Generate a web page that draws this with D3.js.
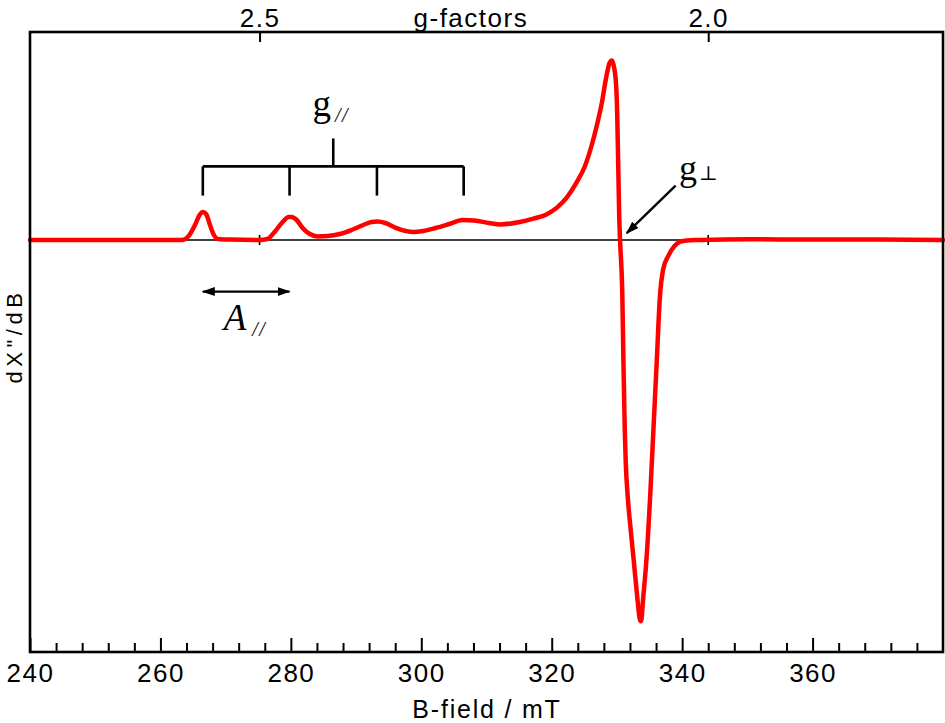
<!DOCTYPE html>
<html><head><meta charset="utf-8">
<script src="https://cdn.jsdelivr.net/npm/d3@7"></script>
<style>body{margin:0;background:#fff}svg{display:block}</style>
</head><body>
<svg id="chart" width="945" height="723"></svg>
<script>
// ---- data ----
const fieldMT = [240.0, 250.7, 263.3, 264.2, 265.3, 266.0, 266.5, 267.0, 267.6, 268.2, 268.8, 270.6, 275.2, 276.4, 277.5, 278.6, 279.7, 280.1, 280.9, 281.8, 282.9, 284.1, 285.6, 287.5, 289.3, 291.1, 292.4, 293.3, 294.5, 296.0, 297.6, 298.8, 300.3, 302.2, 304.3, 306.3, 308.1, 310.4, 312.1, 315.1, 317.2, 319.2, 320.8, 322.3, 323.8, 325.1, 326.1, 326.9, 327.7, 328.3, 328.9, 329.2, 329.45, 329.85, 330.05, 330.2, 330.35, 330.48, 330.83, 331.0, 331.2, 331.35, 331.65, 332.1, 332.6, 333.1, 333.5, 333.7, 334.05, 334.5, 335.1, 335.6, 336.1, 336.6, 337.1, 337.9, 338.9, 339.7, 340.7, 342.6, 350.0, 360.0, 370.0, 380.0];
const signal = [0, 0, 0, 0.0075, 0.0375, 0.0625, 0.07, 0.065, 0.0375, 0.0125, 0.0025, 0.001, 0, 0.0025, 0.02, 0.0425, 0.0575, 0.0575, 0.05, 0.03, 0.015, 0.009, 0.01, 0.015, 0.025, 0.0375, 0.045, 0.046, 0.0425, 0.031, 0.0225, 0.02, 0.0225, 0.03, 0.04, 0.05, 0.049, 0.0425, 0.039, 0.045, 0.0535, 0.064, 0.081, 0.106, 0.1435, 0.185, 0.235, 0.285, 0.344, 0.402, 0.444, 0.449, 0.44, 0.394, 0.31, 0.185, 0.06, 0, -0.14, -0.305, -0.4725, -0.555, -0.64, -0.7225, -0.805, -0.89, -0.9475, -0.953, -0.89, -0.805, -0.64, -0.4725, -0.305, -0.14, -0.0725, -0.039, -0.014, -0.004, -0.001, 0, 0.002, 0.001, 0.001, 0];
const majorTicks = [240, 260, 280, 300, 320, 340, 360];
const minorTicks = [244, 248, 252, 256, 264, 268, 272, 276, 284, 288, 292, 296, 304, 308, 312, 316, 324, 328, 332, 336, 344, 348, 352, 356, 364, 368, 372, 376];
const gTicks = [2.5, 2.0];
const gTickLabels = ["2.5", "2.0"];
const hnuOverMuB = 688;          // mT, field at which g = 1
const gParallelField = [266.5, 279.8, 293.2, 306.5];

// ---- layout ----
const svg = d3.select("#chart");
const pL = 30, pR = 943, pT = 32, pB = 652;
const x = d3.scaleLinear().domain([240, 380]).range([pL, pR]);
const y = d3.scaleLinear().domain([-1.03, 0.52]).range([pB, pT]);
const sans = "'Liberation Sans', Arial, sans-serif";
const serif = "'Liberation Serif', 'Times New Roman', serif";

const defs = svg.append("defs");
defs.append("marker").attr("id", "ah")
  .attr("markerUnits", "userSpaceOnUse")
  .attr("markerWidth", 13).attr("markerHeight", 10)
  .attr("refX", 12).attr("refY", 5)
  .attr("orient", "auto-start-reverse")
  .append("path").attr("d", "M0,0.5 L13,5 L0,9.5 Z").attr("fill", "#000");

// zero line
svg.append("line").attr("x1", pL).attr("x2", pR)
  .attr("y1", y(0)).attr("y2", y(0))
  .attr("stroke", "#000").attr("stroke-width", 1.6);

// small ticks on the zero line at the g positions
svg.selectAll(".zt").data(gTicks).join("line")
  .attr("x1", d => x(hnuOverMuB / d)).attr("x2", d => x(hnuOverMuB / d))
  .attr("y1", y(0) - 5).attr("y2", y(0) + 5)
  .attr("stroke", "#000").attr("stroke-width", 1.6);

// spectrum
const pts = fieldMT.map((b, i) => [b, signal[i]]);
svg.append("path").datum(pts)
  .attr("d", d3.line().x(d => x(d[0])).y(d => y(d[1])).curve(d3.curveMonotoneX))
  .attr("fill", "none").attr("stroke", "#ff0000").attr("stroke-width", 4.5)
  .attr("stroke-linejoin", "round").attr("stroke-linecap", "round");

// bottom axis (ticks inward)
const gMinor = svg.append("g").attr("transform", `translate(0,${pB})`)
  .call(d3.axisBottom(x).tickValues(minorTicks).tickSizeInner(-9).tickSizeOuter(0).tickFormat(""));
const gMajor = svg.append("g").attr("transform", `translate(0,${pB})`)
  .call(d3.axisBottom(x).tickValues(majorTicks).tickSizeInner(-14).tickSizeOuter(0).tickPadding(12).tickFormat(d3.format("d")));
[gMinor, gMajor].forEach(g => {
  g.select(".domain").remove();
  g.selectAll(".tick line").attr("stroke", "#000").attr("stroke-width", 2);
});
gMajor.selectAll(".tick text").attr("font-family", sans).attr("font-size", 26)
  .attr("letter-spacing", "1.5px").attr("fill", "#000");

// top axis: g-factors
const gTop = svg.append("g").attr("transform", `translate(0,${pT})`)
  .call(d3.axisTop(x).tickValues(gTicks.map(g => hnuOverMuB / g))
    .tickSizeInner(-10).tickSizeOuter(0).tickPadding(5)
    .tickFormat((d, i) => gTickLabels[i]));
gTop.select(".domain").remove();
gTop.selectAll(".tick line").attr("stroke", "#000").attr("stroke-width", 2);
gTop.selectAll(".tick text").attr("font-family", sans).attr("font-size", 26)
  .attr("letter-spacing", "1.5px").attr("fill", "#000");

// frame
svg.append("rect").attr("x", pL).attr("y", pT)
  .attr("width", pR - pL).attr("height", pB - pT)
  .attr("fill", "none").attr("stroke", "#000").attr("stroke-width", 2.6);

// axis titles
svg.append("text").attr("x", x(307.6)).attr("y", 27).attr("text-anchor", "middle")
  .attr("font-family", sans).attr("font-size", 26).attr("letter-spacing", "1.5px")
  .text("g-factors");
svg.append("text").attr("x", 487).attr("y", 718).attr("text-anchor", "middle")
  .attr("font-family", sans).attr("font-size", 25).attr("letter-spacing", "1.8px")
  .text("B-field / mT");
svg.append("text").attr("transform", "translate(22,336) rotate(-90)")
  .attr("text-anchor", "middle").attr("font-family", sans).attr("font-size", 22)
  .attr("letter-spacing", "4.5px").text("dX\"/dB");

// g-parallel bracket
const barY = y(0.184), dropY = y(0.111), stemY = y(0.254);
const bx0 = x(gParallelField[0]), bx1 = x(gParallelField[gParallelField.length - 1]);
const br = svg.append("g").attr("stroke", "#000").attr("stroke-width", 2.6).attr("fill", "none");
br.append("line").attr("x1", bx0).attr("x2", bx1).attr("y1", barY).attr("y2", barY);
br.selectAll(".drop").data(gParallelField).join("line")
  .attr("x1", d => x(d)).attr("x2", d => x(d)).attr("y1", barY).attr("y2", dropY);
const stemX = (bx0 + bx1) / 2;
br.append("line").attr("x1", stemX).attr("x2", stemX).attr("y1", barY).attr("y2", stemY);

const gpar = svg.append("text").attr("x", x(283.3)).attr("y", y(0.31))
  .attr("font-family", serif).attr("font-size", 37);
gpar.append("tspan").text("g");
gpar.append("tspan").attr("dx", 4).attr("dy", 6).attr("font-size", 20)
  .attr("font-style", "italic").attr("letter-spacing", "1.5px").text("//");

// A-parallel arrow
svg.append("line").attr("x1", x(gParallelField[0])).attr("x2", x(gParallelField[1]))
  .attr("y1", y(-0.129)).attr("y2", y(-0.129))
  .attr("stroke", "#000").attr("stroke-width", 2.2)
  .attr("marker-start", "url(#ah)").attr("marker-end", "url(#ah)");
const apar = svg.append("text").attr("x", x(269.7)).attr("y", y(-0.226))
  .attr("font-family", serif).attr("font-size", 37).attr("font-style", "italic");
apar.append("tspan").text("A");
apar.append("tspan").attr("dx", 6).attr("dy", 6).attr("font-size", 20)
  .attr("letter-spacing", "1.5px").text("//");

// g-perpendicular arrow + label
svg.append("line").attr("x1", x(339.0)).attr("y1", y(0.136))
  .attr("x2", x(331.5)).attr("y2", y(0.017))
  .attr("stroke", "#000").attr("stroke-width", 2.4).attr("marker-end", "url(#ah)");
const gper = svg.append("text").attr("x", x(339.5)).attr("y", y(0.151))
  .attr("font-family", serif).attr("font-size", 36);
gper.append("tspan").text("g");
gper.append("tspan").attr("dx", 2).attr("dy", 0).attr("font-size", 20)
  .attr("font-family", "'DejaVu Serif', serif").text("⊥");
</script>
</body></html>
